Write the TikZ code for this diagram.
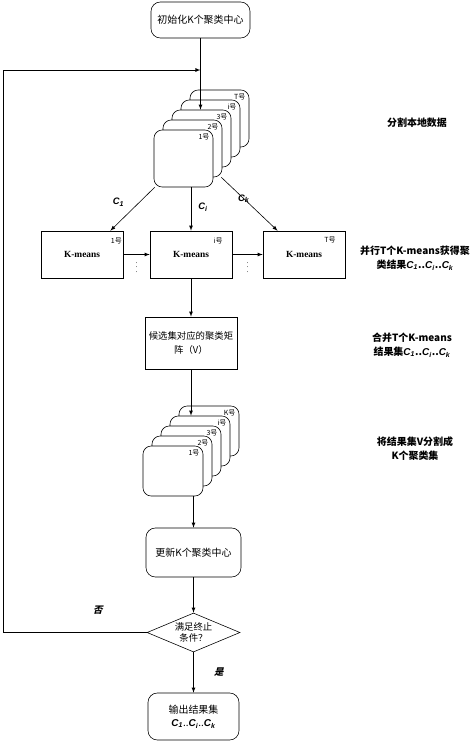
\documentclass[tikz,border=0pt]{standalone}
\usepackage{fontspec}
\usepackage{tikz}
\usetikzlibrary{shapes.geometric}
\setmainfont{Liberation Serif}
\newfontfamily\cjk{Noto Sans CJK SC}
\newfontfamily\cjkit[FakeSlant=0.25]{Noto Sans CJK SC}
\newfontfamily\lsans{Liberation Sans}
\newcommand{\cc}[1]{{\lsans\bfseries\itshape C\textsubscript{#1}}}

\begin{document}
\begin{tikzpicture}[x=0.03cm,y=-0.03cm,>=latex,line width=0.5pt,
    every node/.style={font=\cjk\fontsize{8.5}{11}\selectfont},
    rbox/.style={draw,rounded corners=8pt,align=center,fill=white,inner sep=1pt},
    sbox/.style={draw,align=center,fill=white,inner sep=1pt},
    card/.style={draw,rounded corners=7pt,fill=white},
    tag/.style={anchor=north east,inner sep=0pt,font=\cjk\fontsize{6}{7}\selectfont},
    km/.style={sbox,minimum width=2.46cm,minimum height=1.41cm,font=\rmfamily\bfseries\fontsize{8}{9}\selectfont},
    note/.style={align=center,font=\cjk\bfseries\fontsize{8.5}{12}\selectfont},
    lab/.style={inner sep=1pt,font=\fontsize{8}{9}\selectfont},
    yn/.style={font=\cjkit\bfseries\fontsize{8}{9}\selectfont}]
  \useasboundingbox (0,0) rectangle (474,743);

  \node[rbox,minimum width=2.97cm,minimum height=1.08cm] (1) at (200.5,20) {初始化K个聚类中心};

  % local data
  \foreach \k/\t in {4/T号,3/i号,2/3号,1/2号,0/1号}{
    \node[card,minimum width=1.77cm,minimum height=1.71cm] (s\k) at (183.5+9*\k,158.5-10*\k) {};
    \node[tag] at ([xshift=-3pt,yshift=-3pt]s\k.north east) {\t};
  }
  \node[note] (n1) at (417,123) {分割本地数据};

  % K-means
  \node[km] (2) at (82,254.5) {K-means};
  \node[km] (3) at (191,254.5) {K-means};
  \node[km] (4) at (304,254.5) {K-means};
  \node[tag] at ([xshift=-1pt,yshift=-6pt]2.north east) {1号};
  \node[tag] at ([xshift=-8pt,yshift=-6pt]3.north east) {i号};
  \node[tag] at ([xshift=-8pt,yshift=-5pt]4.north east) {T号};
  \node[note] (n2) at (415,258) {并行T个K-means获得聚\\类结果\cc{1}..\cc{i}..\cc{k}};

  \draw[->] (1) -- (1 |- s2.north);
  \draw[->] (s0.225) -- node[lab,pos=0.34,left=12pt] {\cc{1}} (2.40);
  \draw[->] (s0.south -| 3) -- node[lab,pos=0.45,right=5pt] {\cc{i}} (3);
  \draw[->] (s1.-45) -- node[lab,pos=0.4] {\cc{k}} (4.138);
  \draw[->] (2) -- node[anchor=north,inner sep=0.5pt,font=\fontsize{6}{6}\selectfont] {$\vdots$} (3);
  \draw[->] (3) -- node[anchor=north,inner sep=0.5pt,font=\fontsize{6}{6}\selectfont] {$\vdots$} (4);

  % merge
  \node[sbox,minimum width=2.76cm,minimum height=1.56cm,font=\cjk\fontsize{8}{12}\selectfont] (5) at (191,343) {候选集对应的聚类矩\\阵（V）};
  \node[note] (n3) at (412,345) {合并T个K-means\\结果集\cc{1}..\cc{i}..\cc{k}};
  \draw[->] (3) -- (5);

  % K clusters
  \foreach \k/\t in {4/K号,3/i号,2/3号,1/2号,0/1号}{
    \node[card,minimum width=1.8cm,minimum height=1.5cm] (t\k) at (173+9*\k,471-10*\k) {};
    \node[tag] at ([xshift=-3pt,yshift=-3pt]t\k.north east) {\t};
  }
  \node[note] (n4) at (415,449) {将结果集V分割成\\K个聚类集};
  \draw[->] (5) -- (5 |- t3.north);

  % update and test
  \node[rbox,minimum width=2.85cm,minimum height=1.47cm] (6) at (193.5,552.5) {更新K个聚类中心};
  \draw[->] (t0.south -| 6) -- (6);
  \node[diamond,draw,fill=white,aspect=2.4,inner sep=0pt,minimum width=2.79cm,minimum height=1.17cm,
        align=center,font=\cjk\fontsize{8}{9.5}\selectfont] (7) at (193.5,632.5) {满足终止\\条件？};
  \draw[->] (6) -- (7);
  \node[rbox,minimum width=2.73cm,minimum height=1.41cm] (8) at (193.5,716.5) {输出结果集\\\cc{1}..\cc{i}..\cc{k}};
  \draw[->] (7) -- node[yn,right=14pt] {是} (8);

  % loop back
  \coordinate (fb) at (3,70);
  \draw[->] (7.west) -| node[yn,pos=0.17,above=12pt] {否} (fb) -- (fb -| 1);
\end{tikzpicture}
\end{document}
